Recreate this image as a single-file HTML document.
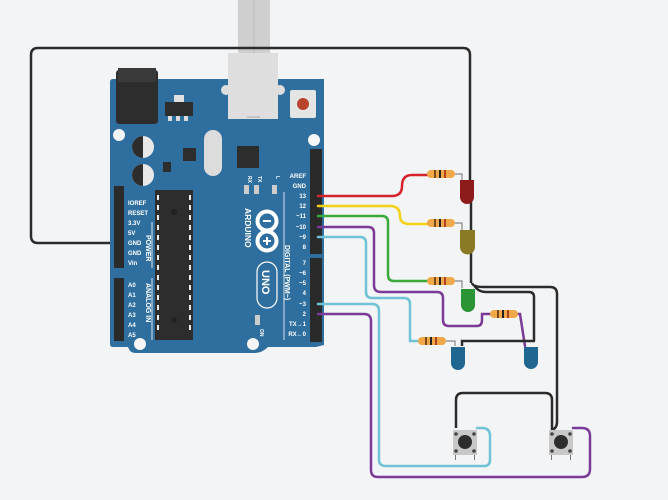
<!DOCTYPE html>
<html><head><meta charset="utf-8"><style>
html,body{margin:0;padding:0;background:#f3f4f6;}
svg{display:block;}
text{font-family:"Liberation Sans",sans-serif;font-weight:bold;fill:#fff;}
</style></head><body>
<svg width="668" height="500" viewBox="0 0 668 500" xmlns="http://www.w3.org/2000/svg">
<rect width="668" height="500" fill="#f3f4f6"/>
<rect x="238" y="0" width="32" height="55" fill="#cfcfcf"/>
<line x1="254" y1="0" x2="254" y2="55" stroke="#bdbdbd" stroke-width="1"/>
<path d="M113 243 H38 Q31 243 31 236 V55 Q31 48 38 48 H463 Q470 48 470 55 V180" fill="none" stroke="#2b2b2b" stroke-width="2.5"/>
<path d="M113 79 H324 V345 L316 347 L268 347 Q262 353 255 353 H135 Q130 353 128 347 H113 Q110 347 110 344 V82 Q110 79 113 79 Z" fill="#2f6f9f"/>
<rect x="116" y="70" width="42" height="54" rx="3" fill="#2d2d2d"/>
<rect x="118" y="68" width="38" height="14" fill="#3a3a3a"/>
<rect x="228" y="53" width="50" height="66" fill="#dedede"/>
<circle cx="226" cy="90" r="5" fill="#dedede"/><circle cx="280" cy="90" r="5" fill="#dedede"/>
<line x1="247" y1="117" x2="260" y2="117" stroke="#aaa"/>
<rect x="290" y="90" width="26" height="28" rx="2" fill="#e5e5e5"/>
<circle cx="303" cy="104" r="6" fill="#b8452b"/>
<rect x="165" y="102" width="28" height="14" fill="#2d2d2d"/>
<rect x="174" y="95" width="10" height="7" fill="#e0e0e0"/>
<rect x="168" y="116" width="4" height="5" fill="#ddd"/><rect x="176" y="116" width="4" height="5" fill="#ddd"/><rect x="184" y="116" width="4" height="5" fill="#ddd"/>
<circle cx="119" cy="135" r="6" fill="#f5f5f5"/>
<circle cx="314" cy="140" r="6" fill="#f5f5f5"/>
<circle cx="140" cy="344" r="6" fill="#f5f5f5"/>
<circle cx="253" cy="344" r="6" fill="#f5f5f5"/>
<circle cx="143" cy="147" r="11" fill="#e8e8e8"/><path d="M143 136 A11 11 0 0 0 143 158 Z" fill="#2d2d2d"/>
<circle cx="143" cy="175" r="11" fill="#e8e8e8"/><path d="M143 164 A11 11 0 0 0 143 186 Z" fill="#2d2d2d"/>
<rect x="183" y="148" width="13" height="13" fill="#2d2d2d"/>
<rect x="237" y="146" width="22" height="22" fill="#2d2d2d"/>
<rect x="163" y="162" width="8" height="10" fill="#2d2d2d"/>
<rect x="204" y="130" width="18" height="46" rx="9" fill="#dcdcdc"/>
<rect x="244" y="185" width="5" height="9" fill="#ccc"/><rect x="254" y="185" width="5" height="9" fill="#ccc"/><rect x="272" y="185" width="5" height="9" fill="#ccc"/>
<text font-size="5" transform="translate(248,176) rotate(90)">RX</text>
<text font-size="5" transform="translate(258,176) rotate(90)">TX</text>
<text font-size="5" transform="translate(276,176) rotate(90)">L</text>
<rect x="155" y="190" width="38" height="150" fill="#2d2d2d"/>
<circle cx="174" cy="212" r="3" fill="#222"/><circle cx="174" cy="320" r="3" fill="#222"/>
<g fill="#eee">
<rect x="157" y="195" width="2" height="5"/><rect x="157" y="205" width="2" height="5"/><rect x="157" y="215" width="2" height="5"/><rect x="157" y="225" width="2" height="5"/><rect x="157" y="235" width="2" height="5"/><rect x="157" y="245" width="2" height="5"/><rect x="157" y="255" width="2" height="5"/><rect x="157" y="265" width="2" height="5"/><rect x="157" y="275" width="2" height="5"/><rect x="157" y="285" width="2" height="5"/><rect x="157" y="295" width="2" height="5"/><rect x="157" y="305" width="2" height="5"/><rect x="157" y="315" width="2" height="5"/><rect x="157" y="325" width="2" height="5"/>
<rect x="189" y="195" width="2" height="5"/><rect x="189" y="205" width="2" height="5"/><rect x="189" y="215" width="2" height="5"/><rect x="189" y="225" width="2" height="5"/><rect x="189" y="235" width="2" height="5"/><rect x="189" y="245" width="2" height="5"/><rect x="189" y="255" width="2" height="5"/><rect x="189" y="265" width="2" height="5"/><rect x="189" y="275" width="2" height="5"/><rect x="189" y="285" width="2" height="5"/><rect x="189" y="295" width="2" height="5"/><rect x="189" y="305" width="2" height="5"/><rect x="189" y="315" width="2" height="5"/><rect x="189" y="325" width="2" height="5"/>
</g>
<rect x="114" y="186" width="10" height="82" fill="#2a2a2a"/>
<rect x="114" y="278" width="10" height="63" fill="#2a2a2a"/>
<rect x="310" y="149" width="12" height="105" fill="#2a2a2a"/>
<rect x="310" y="258" width="12" height="84" fill="#2a2a2a"/>
<g font-size="6">
<text x="128" y="205">IOREF</text><text x="128" y="215">RESET</text><text x="128" y="225">3.3V</text><text x="128" y="235">5V</text><text x="128" y="245">GND</text><text x="128" y="255">GND</text><text x="128" y="265">Vin</text>
<text x="128" y="287">A0</text><text x="128" y="297">A1</text><text x="128" y="307">A2</text><text x="128" y="317">A3</text><text x="128" y="327">A4</text><text x="128" y="337">A5</text>
</g>
<text font-size="7" transform="translate(146,235) rotate(90)">POWER</text>
<text font-size="7" transform="translate(146,283) rotate(90)">ANALOG IN</text>
<line x1="152" y1="222" x2="152" y2="268" stroke="#fff" stroke-width="0.8"/>
<line x1="152" y1="278" x2="152" y2="340" stroke="#fff" stroke-width="0.8"/>
<g font-size="6" text-anchor="end">
<text x="306" y="178">AREF</text><text x="306" y="188">GND</text><text x="306" y="198">13</text><text x="306" y="208">12</text><text x="306" y="218">~11</text><text x="306" y="229">~10</text><text x="306" y="239">~9</text><text x="306" y="249">8</text>
<text x="306" y="265">7</text><text x="306" y="275">~6</text><text x="306" y="285">~5</text><text x="306" y="295">4</text><text x="306" y="306">~3</text><text x="306" y="316">2</text><text x="306" y="326">TX→1</text><text x="306" y="336">RX←0</text>
</g>
<line x1="284" y1="192" x2="284" y2="340" stroke="#fff" stroke-width="0.8"/>
<text font-size="7" transform="translate(285,245) rotate(90)">DIGITAL (PWM~)</text>
<g fill="none" stroke="#fff" stroke-width="4">
<circle cx="267" cy="221" r="9.5"/><circle cx="267" cy="241" r="9.5"/>
</g>
<line x1="263" y1="221" x2="271" y2="221" stroke="#fff" stroke-width="2"/>
<line x1="263" y1="241" x2="271" y2="241" stroke="#fff" stroke-width="2"/><line x1="267" y1="237" x2="267" y2="245" stroke="#fff" stroke-width="2"/>
<text font-size="8.5" transform="translate(245,208) rotate(90)">ARDUINO</text>
<rect x="257" y="262" width="20" height="46" rx="10" fill="none" stroke="#fff" stroke-width="1.2"/>
<text font-size="11" font-weight="normal" transform="translate(262,270) rotate(90)">UNO</text>
<rect x="255" y="315" width="5" height="10" fill="#ccc"/>
<text font-size="5" transform="translate(260,329) rotate(90)">ON</text>
<g fill="none" stroke-width="2.5" stroke-linecap="round">
<path d="M318 196 H392 Q402 196 402 186 Q402 175 412 175 H428" stroke="#d4232a"/>
<path d="M318 206 H390 Q400 206 400 216 Q400 224 410 224 H428" stroke="#f2d216"/>
<path d="M318 216 H382 Q388 216 388 222 V275 Q388 281 394 281 H428" stroke="#3aa93a"/>
<path d="M318 227 H368 Q374 227 374 233 V285 Q374 292 381 292 H437 Q443 292 443 298 V320 Q443 326 449 326 H477 Q482 326 482 320 V314 H492" stroke="#7a3a96"/>
<path d="M318 237 H360 Q366 237 366 243 V292 Q366 298 372 298 H404 Q410 298 410 304 V341 H420" stroke="#6fc3d6"/>
<path d="M318 304 H372 Q379 304 379 311 V460 Q379 466 386 466 H484 Q490 466 490 460 V436 Q490 428 482 428 H477" stroke="#6fc3d6"/>
<path d="M318 314 H364 Q371 314 371 321 V470 Q371 477 378 477 H582 Q590 477 590 469 V436 Q590 428 582 428 H573" stroke="#7a3a96"/>
<path d="M515 314 H520 L525 346" stroke="#7a3a96"/>
</g>
<g fill="none" stroke="#2b2b2b" stroke-width="2.5">
<path d="M471 180 V283"/>
<path d="M472 283 Q473 287 484 287 H550 Q557 287 557 294 V422 Q557 428 552 430"/>
<path d="M474 285 Q478 292 486 292 H529 Q534 292 534 297 V341"/>
<path d="M462 346 V341 H535"/>
<path d="M456 428 V400 Q456 393 463 393 H545 Q552 393 552 400 V430"/>
</g>
<g>
<g transform="translate(427,170)"><rect width="28" height="8" rx="4" fill="#f0a848"/><rect x="7" width="2" height="8" fill="#7a4a1a"/><rect x="12" width="2" height="8" fill="#222"/><rect x="17" width="2" height="8" fill="#b04020"/></g>
<g transform="translate(427,219)"><rect width="28" height="8" rx="4" fill="#f0a848"/><rect x="7" width="2" height="8" fill="#7a4a1a"/><rect x="12" width="2" height="8" fill="#222"/><rect x="17" width="2" height="8" fill="#b04020"/></g>
<g transform="translate(427,277)"><rect width="28" height="8" rx="4" fill="#f0a848"/><rect x="7" width="2" height="8" fill="#7a4a1a"/><rect x="12" width="2" height="8" fill="#222"/><rect x="17" width="2" height="8" fill="#b04020"/></g>
<g transform="translate(490,310)"><rect width="28" height="8" rx="4" fill="#f0a848"/><rect x="7" width="2" height="8" fill="#7a4a1a"/><rect x="12" width="2" height="8" fill="#222"/><rect x="17" width="2" height="8" fill="#b04020"/></g>
<g transform="translate(418,337)"><rect width="28" height="8" rx="4" fill="#f0a848"/><rect x="7" width="2" height="8" fill="#7a4a1a"/><rect x="12" width="2" height="8" fill="#222"/><rect x="17" width="2" height="8" fill="#b04020"/></g>
</g>
<g stroke="#888" stroke-width="1.2" fill="none">
<path d="M455 174 H462 V181"/><path d="M455 223 H462 V230"/><path d="M455 281 H462 V288"/><path d="M446 341 H455 V346"/>
</g>
<path d="M460 180 H474 V197 A7 7 0 0 1 460 197 Z" fill="#8e1b1b"/>
<path d="M460 230 H475 V247 A7.5 7.5 0 0 1 460 247 Z" fill="#8b7a24"/>
<path d="M461 289 H475 V305 A7 7 0 0 1 461 305 Z" fill="#2b9435"/>
<path d="M451 347 H465 V363 A7 7 0 0 1 451 363 Z" fill="#1f6690"/>
<path d="M524 347 H538 V362 A7 7 0 0 1 524 362 Z" fill="#1f6690"/>
<g>
<rect x="453" y="430" width="24" height="25" fill="#c8c8c8"/>
<circle cx="465" cy="442" r="7" fill="#2d2d2d"/>
<circle cx="456" cy="434" r="1.8" fill="#444"/><circle cx="474" cy="434" r="1.8" fill="#444"/><circle cx="456" cy="451" r="1.8" fill="#444"/><circle cx="474" cy="451" r="1.8" fill="#444"/>
<rect x="455" y="455" width="1" height="5" fill="#777"/><rect x="474" y="455" width="1" height="5" fill="#777"/>
<rect x="549" y="430" width="24" height="25" fill="#c8c8c8"/>
<circle cx="561" cy="442" r="7" fill="#2d2d2d"/>
<circle cx="552" cy="434" r="1.8" fill="#444"/><circle cx="570" cy="434" r="1.8" fill="#444"/><circle cx="552" cy="451" r="1.8" fill="#444"/><circle cx="570" cy="451" r="1.8" fill="#444"/>
<rect x="551" y="455" width="1" height="5" fill="#777"/><rect x="570" y="455" width="1" height="5" fill="#777"/>
</g>
</svg>
</body></html>
